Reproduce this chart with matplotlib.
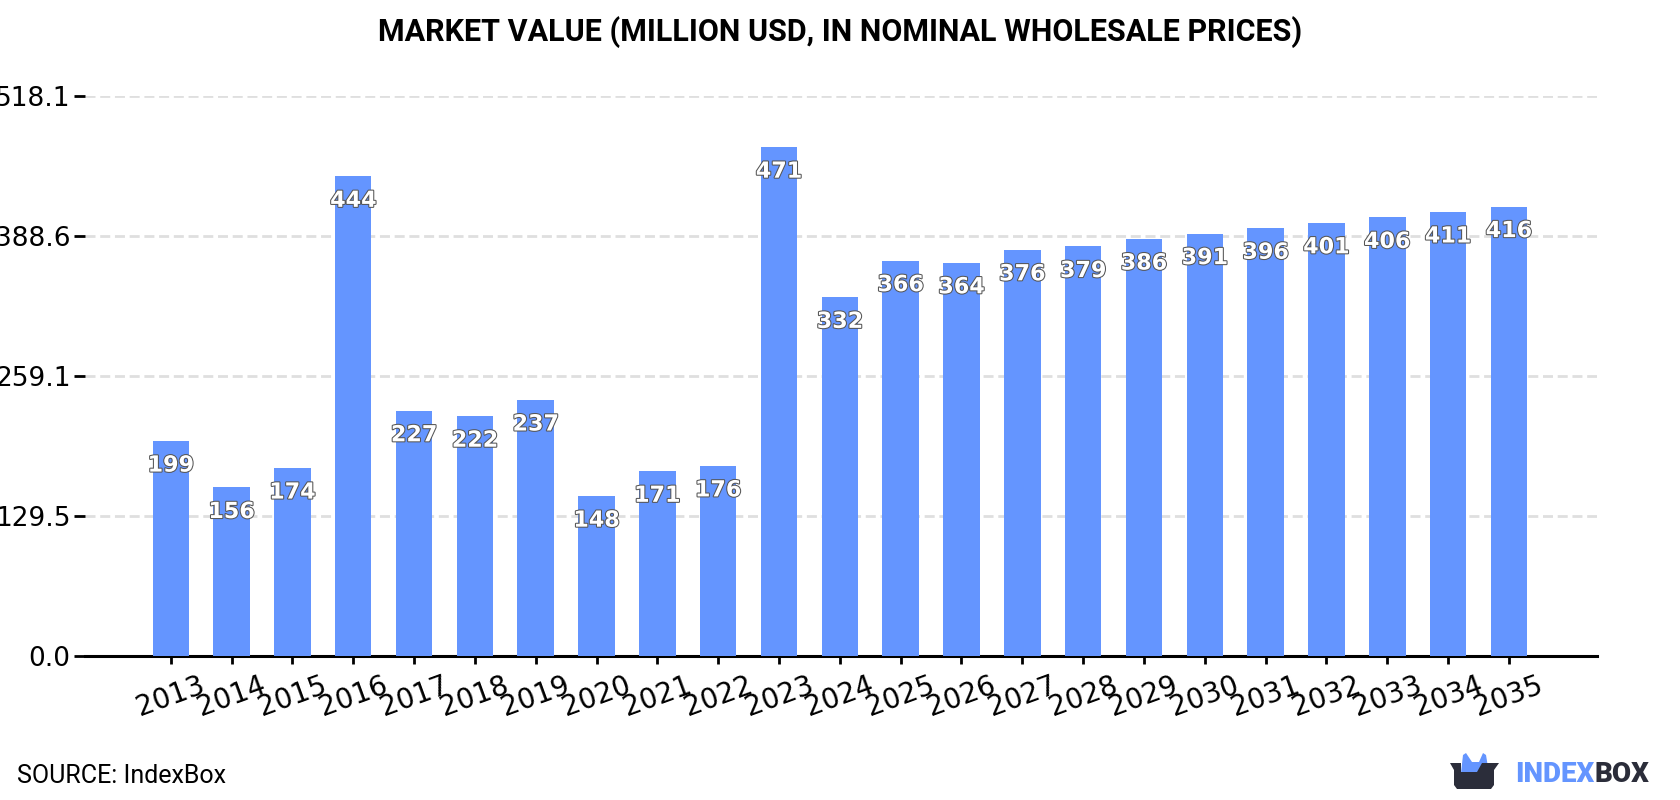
import matplotlib
matplotlib.use("Agg")
import matplotlib.pyplot as plt
import matplotlib.patheffects as pe
from matplotlib.patches import Polygon

years = [2013, 2014, 2015, 2016, 2017, 2018, 2019, 2020, 2021, 2022, 2023, 2024,
         2025, 2026, 2027, 2028, 2029, 2030, 2031, 2032, 2033, 2034, 2035]
values = [199, 156, 174, 444, 227, 222, 237, 148, 171, 176, 471, 332,
          366, 364, 376, 379, 386, 391, 396, 401, 406, 411, 416]
y_ticks = [0.0, 129.5, 259.1, 388.6, 518.1]

W, H = 1680, 800
BLUE = "#6495ff"
DARK = "#2b2d3a"

fig = plt.figure(figsize=(16.8, 8), dpi=100)
ax = fig.add_axes([85 / W, 1 - 656 / H, (1596.5 - 85) / W, (656 - 96.2) / H])

ax.bar(range(len(years)), values, width=0.6, color=BLUE, zorder=3)
ax.set_xlim(-1.41, 23.44)
ax.set_ylim(0, 518.1)

ax.set_yticks(y_ticks)
ax.set_yticklabels(["%.1f" % v for v in y_ticks], fontsize=19)
ax.set_xticks(range(len(years)))
ax.set_xticklabels(years, fontsize=20, rotation=20)
ax.tick_params(axis="y", length=8, width=2, pad=2.5)
ax.tick_params(axis="x", length=6, width=2, pad=5)

ax.grid(axis="y", color="#dfdfdf", linewidth=2, dashes=(3.6, 1.7), zorder=0)
for s in ["top", "left", "right"]:
    ax.spines[s].set_visible(False)
ax.spines["bottom"].set_linewidth(2.2)

# value labels sit just under the top of each bar
for i, v in enumerate(values):
    ax.annotate(str(v), (i, v), xytext=(0, -17.7), textcoords="offset points",
                ha="center", va="center", fontsize=16, fontweight="bold",
                color="white", zorder=4,
                path_effects=[pe.withStroke(linewidth=1.5, foreground="#555555")])

fig.text(0.5, 1 - 32 / H, "MARKET VALUE (MILLION USD, IN NOMINAL WHOLESALE PRICES)",
         ha="center", va="center", family="Roboto", fontweight="bold", fontsize=22, color="black")
fig.text(17 / W, 1 - 776 / H, "SOURCE: IndexBox", ha="left", va="center",
         family="Roboto", fontsize=18, color="black")

# logo: box with blue ears
logo = fig.add_axes([0, 0, 1, 1], facecolor="none")
logo.set_xlim(0, W)
logo.set_ylim(H, 0)
logo.axis("off")
logo.add_patch(Polygon([(1461, 773), (1463, 755), (1466, 753), (1472, 762), (1479, 762),
                        (1483, 753), (1486, 755), (1489, 773)], closed=True, color=BLUE, lw=0))
logo.add_patch(Polygon([(1450, 763), (1461, 763), (1461, 772), (1477, 772), (1482, 763),
                        (1499, 763), (1494, 770), (1494, 785), (1491, 789), (1457, 789),
                        (1454, 785), (1454, 770)], closed=True, color=DARK, lw=0))
t1 = logo.text(1515, 774, "INDEX", ha="left", va="center", family="Roboto",
               fontweight="black", fontsize=20, color=BLUE)
fig.canvas.draw()
bb = t1.get_window_extent()
logo.text(bb.x1 + 0.5, 774, "BOX", ha="left", va="center", family="Roboto",
          fontweight="black", fontsize=20, color=DARK)

fig.savefig("out.png", dpi=100)
